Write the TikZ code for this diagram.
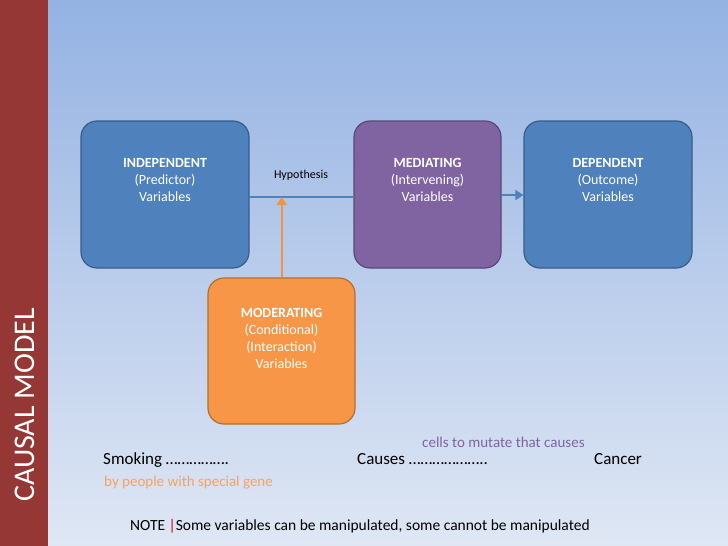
\documentclass[tikz,border=0pt]{standalone}
\usepackage{fontspec}
\setmainfont{Carlito}
\usetikzlibrary{arrows.meta}
\definecolor{bgtop}{HTML}{94B2E2}
\definecolor{bgbot}{HTML}{DFE7F4}
\definecolor{barred}{HTML}{953735}
\definecolor{bblue}{HTML}{4F81BD}
\definecolor{bblueb}{HTML}{385D8A}
\definecolor{bpurp}{HTML}{8064A2}
\definecolor{bpurpb}{HTML}{5C4776}
\definecolor{borng}{HTML}{F79646}
\definecolor{borngb}{HTML}{B66D31}
\definecolor{purtxt}{HTML}{8064A2}
\definecolor{orgtxt}{HTML}{F4A460}
\tikzset{x=1pt,y=-1pt,
 box/.style={rounded corners=16pt,line width=1.2pt,inner sep=0pt,align=center,text=white,font=\fontsize{14}{17}\selectfont},
 lbl/.style={inner sep=0pt,anchor=base west,font=\fontsize{17}{20}\selectfont}}
\begin{document}
\begin{tikzpicture}
\useasboundingbox (0,0) rectangle (728,546);
\shade[top color=bgtop,bottom color=bgbot] (0,0) rectangle (728,546);
\fill[barred] (0,0) rectangle (48,546);
\node[rotate=90,anchor=center,text=white,font=\fontsize{30}{36}\selectfont] (title) at (25,405) {CAUSAL MODEL};
\node[box,draw=bblueb,fill=bblue,minimum width=168pt,minimum height=147pt] (ind) at (165,194.5) {};
\node[box,text=white] (indt) at (165,195) {\textbf{INDEPENDENT}\\(Predictor)\\Variables\\[14pt]};
\node[box,draw=bpurpb,fill=bpurp,minimum width=147pt,minimum height=147pt] (med) at (427.5,194.5) {};
\node[box] (medt) at (427.5,195) {\textbf{MEDIATING}\\(Intervening)\\Variables\\[14pt]};
\node[box,draw=bblueb,fill=bblue,minimum width=168pt,minimum height=147pt] (dep) at (608,194.5) {};
\node[box] (dept) at (608,195) {\textbf{DEPENDENT}\\(Outcome)\\Variables\\[14pt]};
\node[box,draw=borngb,fill=borng,minimum width=147pt,minimum height=146pt] (mod) at (281.5,351) {};
\node[box] (modt) at (281.5,352) {\textbf{MODERATING}\\(Conditional)\\(Interaction)\\Variables\\[10pt]};
\draw[bblue,line width=2.5pt] (ind.east |- 0,197) -- coordinate[pos=0.31] (hit) (med.west |- 0,197);
\draw[bblue,line width=2.5pt,-{Triangle[length=8pt,width=10pt]}] (med.east |- 0,195) -- (dep.west |- 0,195);
\draw[borng!85!brown,line width=2.5pt,-{Triangle[length=8pt,width=10pt]}] (mod.north -| hit) -- (hit);
\node[inner sep=0pt,font=\fontsize{12}{14}\selectfont] (hyp) at (301,175) {Hypothesis};
\node[lbl] (smk) at (103,464) {Smoking …………….};
\node[lbl,text=orgtxt,font=\fontsize{15}{18}\selectfont] (gene) at (104,486) {by people with special gene};
\node[lbl] (cau) at (357,464) {Causes ………………..};
\node[lbl,text=purtxt,font=\fontsize{15}{18}\selectfont] (cells) at (422,447) {cells to mutate that causes};
\node[lbl] (can) at (594,464) {Cancer};
\node[lbl,font=\fontsize{15.5}{18}\selectfont] (note) at (130,530) {NOTE \textcolor{red!80!black}{|}Some variables can be manipulated, some cannot be manipulated};
\end{tikzpicture}
\end{document}
